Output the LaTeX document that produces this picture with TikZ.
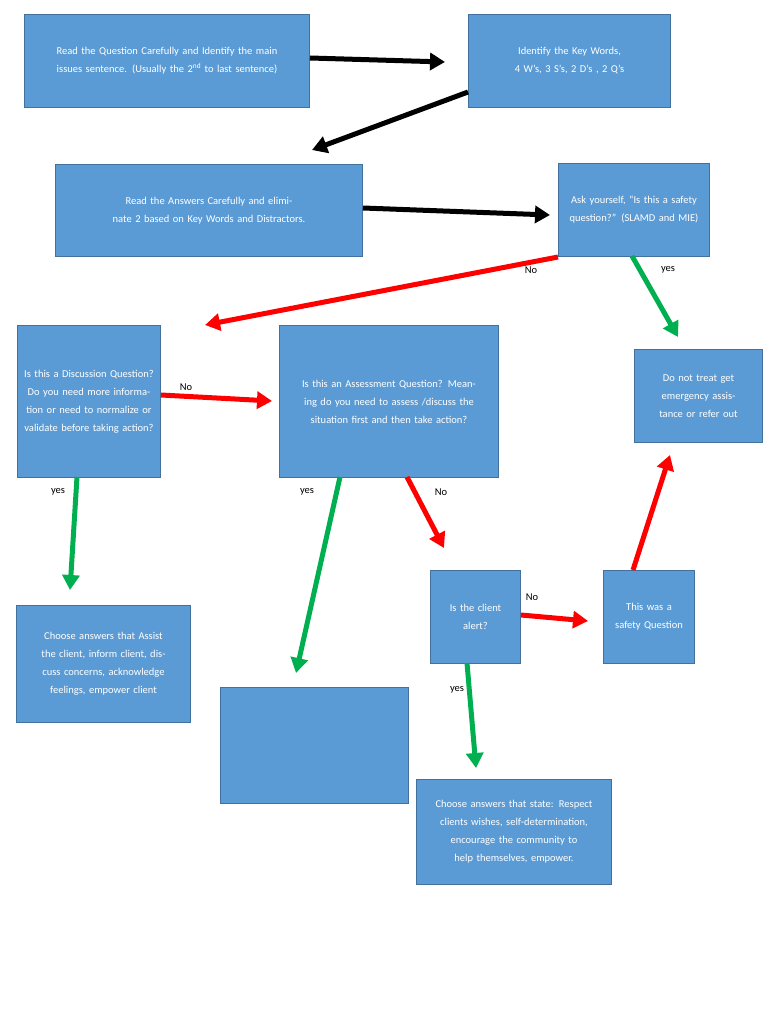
\documentclass[tikz,border=0pt]{standalone}
\usepackage{fontspec}
\setmainfont{Carlito}
\usetikzlibrary{arrows.meta}
\definecolor{boxfill}{RGB}{91,155,213}
\definecolor{boxline}{RGB}{65,113,156}
\definecolor{flowred}{RGB}{255,0,0}
\definecolor{flowgreen}{RGB}{0,176,80}
\tikzset{
  box/.style={draw=boxline, line width=1pt, fill=boxfill, text=white, anchor=north west,
    align=center, inner sep=4pt, font=\fontsize{10.5}{18}\selectfont},
  flow/.style={line width=5pt, -{Triangle[length=15pt,width=17pt]}},
  lbl/.style={font=\fontsize{10.5}{12}\selectfont}
}
\newcommand{\mkbox}[6]{\node[box, minimum width=#4-#2, minimum height=#5-#3, text width=#4-#2-12] (#1) at (#2,#3) {#6};}
\begin{document}
\begin{tikzpicture}[x=1pt,y=-1pt]
\useasboundingbox (0,0) rectangle (768,1024);
% boxes
\mkbox{read}{24}{14}{309}{107}{Read the Question Carefully and Identify the main issues sentence. (Usually the 2\textsuperscript{nd} to last sentence)}
\mkbox{keys}{468}{14}{670}{107}{Identify the Key Words, 4 W’s, 3 S’s, 2 D’s , 2 Q’s}
\mkbox{answers}{55}{164}{362}{256}{Read the Answers Carefully and eliminate 2 based on Key Words and Distractors.}
\mkbox{safety}{558}{163}{709}{256}{Ask yourself, “Is this a safety question?” (SLAMD and MIE)}
\mkbox{discuss}{17}{325}{160}{477}{Is this a Discussion Question? Do you need more information or need to normalize or validate before taking action?}
\mkbox{assess}{279}{325}{498}{477}{Is this an Assessment Question? Meaning do you need to assess /discuss the situation first and then take action?}
\mkbox{treat}{634}{349}{762}{442}{Do not treat get emergency assistance or refer out}
\mkbox{assist}{16}{605}{190}{722}{Choose answers that Assist the client, inform client, discuss concerns, acknowledge feelings, empower client}
\mkbox{blank}{220}{687}{408}{803}{}
\mkbox{alert}{430}{570}{520}{663}{Is the client alert?}
\mkbox{wasSafe}{603}{570}{694}{663}{This was a safety Question}
\mkbox{respect}{416}{779}{611}{884}{Choose answers that state: Respect clients wishes, self-determination, encourage the community to help themselves, empower.}
% connectors
\coordinate (k1) at (445,62);
\coordinate (a1) at (312,150);
\coordinate (s1) at (550,215);
\coordinate (d1) at (205,325);
\coordinate (t1) at (678,337);
\coordinate (f1) at (272,401);
\coordinate (h1) at (70,590);
\coordinate (b1) at (296,673);
\coordinate (c1) at (444,548);
\coordinate (w1) at (588,621);
\coordinate (r1) at (476,768);
\coordinate (t2) at (670,455);
\draw[flow] (read.east |- 0,58) -- (k1);
\draw[flow] (keys.west |- 0,92) -- (a1);
\draw[flow] (answers.east |- 0,208) -- (s1);
\draw[flow, flowred] (safety.south west) -- (d1);
\draw[flow, flowgreen] (632,256) -- (t1);
\draw[flow, flowred] (discuss.east |- 0,395) -- (f1);
\draw[flow, flowgreen] (77,477) -- (h1);
\draw[flow, flowgreen] (340,477) -- (b1);
\draw[flow, flowred] (407,477) -- (c1);
\draw[flow, flowred] (alert.east |- 0,615) -- (w1);
\draw[flow, flowgreen] (467,663) -- (r1);
\draw[flow, flowred] (633,570) -- (t2);
% labels
\node[lbl] at (531,270) {No};
\node[lbl] at (668,270) {yes};
\node[lbl] at (186,387) {No};
\node[lbl] at (58,492) {yes};
\node[lbl] at (307,492) {yes};
\node[lbl] at (441,492) {No};
\node[lbl] at (532,597) {No};
\node[lbl] at (457,690) {yes};
\end{tikzpicture}
\end{document}
